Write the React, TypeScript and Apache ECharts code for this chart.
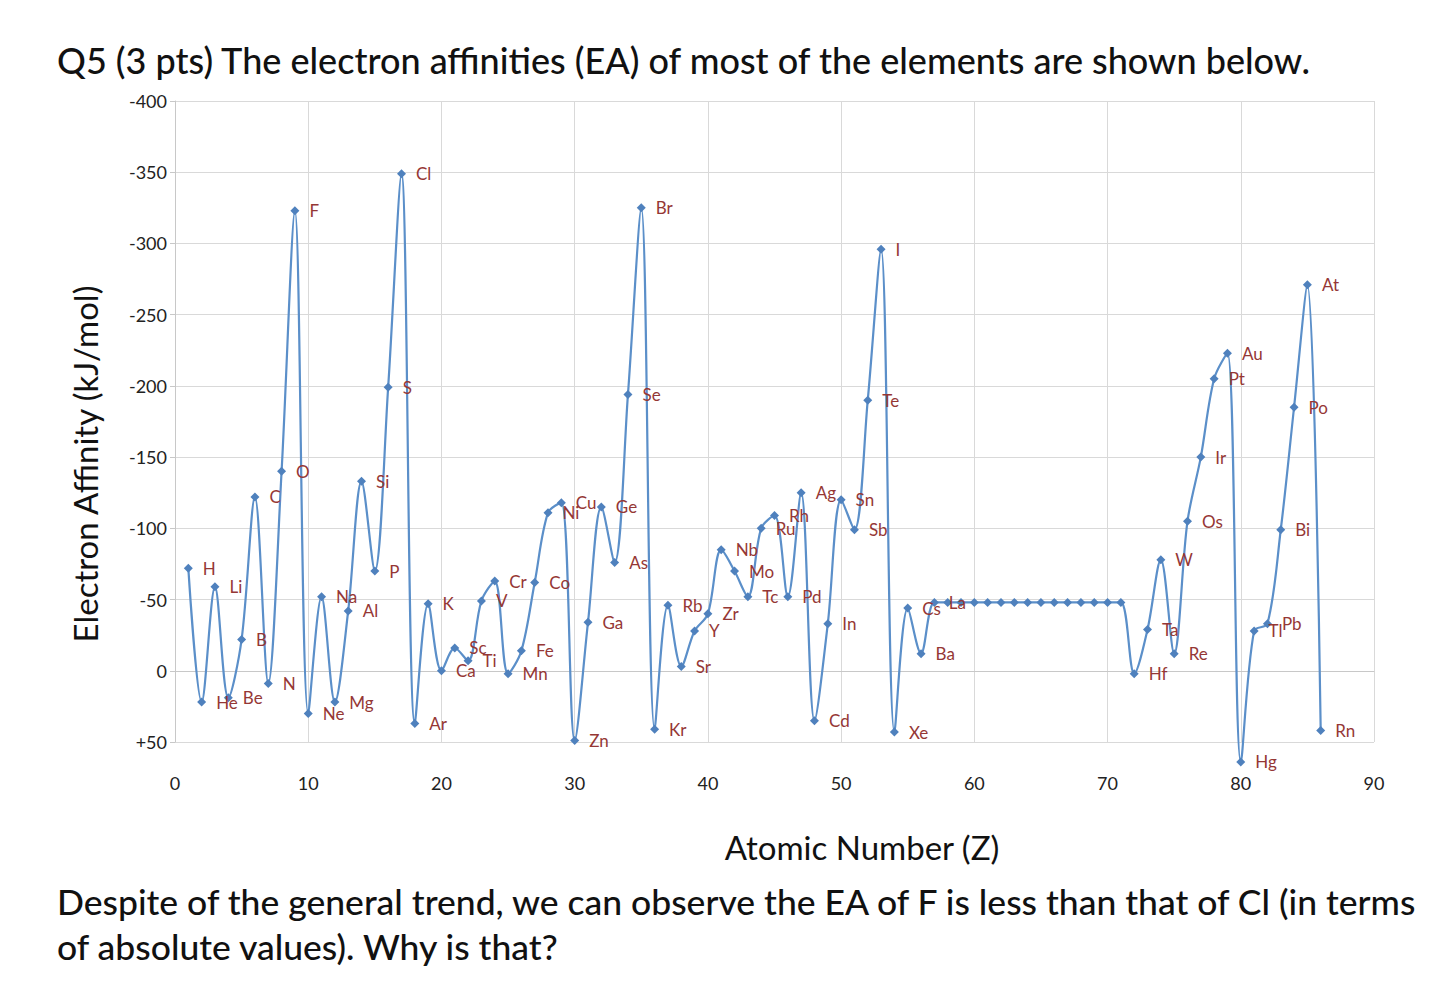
import React, { useEffect, useRef } from "react";
import * as echarts from "echarts";

// Element symbols, Z = 1..86
const elementSymbols = [
  "H", "He", "Li", "Be", "B", "C", "N", "O", "F", "Ne",
  "Na", "Mg", "Al", "Si", "P", "S", "Cl", "Ar", "K", "Ca",
  "Sc", "Ti", "V", "Cr", "Mn", "Fe", "Co", "Ni", "Cu", "Zn",
  "Ga", "Ge", "As", "Se", "Br", "Kr", "Rb", "Sr", "Y", "Zr",
  "Nb", "Mo", "Tc", "Ru", "Rh", "Pd", "Ag", "Cd", "In", "Sn",
  "Sb", "Te", "I", "Xe", "Cs", "Ba", "La", "Ce", "Pr", "Nd",
  "Pm", "Sm", "Eu", "Gd", "Tb", "Dy", "Ho", "Er", "Tm", "Yb",
  "Lu", "Hf", "Ta", "W", "Re", "Os", "Ir", "Pt", "Au", "Hg",
  "Tl", "Pb", "Bi", "Po", "At", "Rn",
];

// Electron affinity (kJ/mol), Z = 1..86
const electronAffinity = [
  -72, 22, -59, 19, -22, -122, 9, -140, -323, 30,
  -52, 22, -42, -133, -70, -199, -349, 37, -47, 0,
  -16, -7, -49, -63, 2, -14, -62, -111, -118, 49,
  -34, -115, -76, -194, -325, 41, -46, -3, -28, -40,
  -85, -70, -52, -100, -109, -52, -125, 35, -33, -120,
  -99, -190, -296, 43, -44, -12, -48, -48, -48, -48,
  -48, -48, -48, -48, -48, -48, -48, -48, -48, -48,
  -48, 2, -29, -78, -12, -105, -150, -205, -223, 64,
  -28, -33, -99, -185, -271, 42,
];

// Elements shown without a label in the chart (Ce..Lu)
const unlabeledSymbols = [
  "Ce", "Pr", "Nd", "Pm", "Sm", "Eu", "Gd", "Tb", "Dy", "Ho", "Er", "Tm", "Yb", "Lu",
];

const xAxisMin = 0;
const xAxisMax = 90;
const xAxisInterval = 10;
const yAxisMin = -400;
const yAxisMax = 50;
const yAxisInterval = 50;

const questionTitle =
  "Q5 (3 pts) The electron affinities (EA) of most of the elements are shown below.";
const questionLine1 =
  "Despite of the general trend, we can observe the EA of F is less than that of Cl (in terms";
const questionLine2 = "of absolute values). Why is that?";
const xAxisTitle = "Atomic Number (Z)";
const yAxisTitle = "Electron Affinity (kJ/mol)";

const FONT = "Lato, 'Open Sans', 'DejaVu Sans', sans-serif";

export default function App() {
  const ref = useRef<HTMLDivElement>(null);

  useEffect(() => {
    if (!ref.current) return;
    const chart = echarts.init(ref.current, undefined, { renderer: "svg" });

    const data = electronAffinity.map((v, i) => [i + 1, v]);
    const labels = elementSymbols.map((s) => (unlabeledSymbols.includes(s) ? "" : s));

    const questionStyle = (text: string, size: number) => ({
      text,
      font: `500 ${size}px ${FONT}`,
      fill: "#111",
      textAlign: "left",
      textVerticalAlign: "middle",
    });

    chart.setOption({
      animation: false,
      backgroundColor: "#ffffff",
      grid: { left: 175, top: 101, width: 1199, height: 641, containLabel: false },
      xAxis: {
        type: "value",
        min: xAxisMin,
        max: xAxisMax,
        interval: xAxisInterval,
        axisLine: { show: true, lineStyle: { color: "#c8c8c8", width: 1 } },
        axisTick: { show: false },
        axisLabel: { fontFamily: FONT, fontSize: 18, color: "#222", margin: 32 },
        splitLine: { show: true, lineStyle: { color: "#d9d9d9", width: 1 } },
      },
      yAxis: {
        type: "value",
        inverse: true,
        min: yAxisMin,
        max: yAxisMax,
        interval: yAxisInterval,
        axisLine: { show: true, lineStyle: { color: "#c8c8c8", width: 1 } },
        axisTick: { show: true, length: 5, lineStyle: { color: "#c8c8c8" } },
        axisLabel: {
          fontFamily: FONT,
          fontSize: 18,
          color: "#222",
          margin: 8,
          formatter: (v: number) => (v > 0 ? "+" + v : String(v)),
        },
        splitLine: { show: true, lineStyle: { color: "#d9d9d9", width: 1 } },
      },
      graphic: [
        { type: "text", x: 57, y: 60, style: questionStyle(questionTitle, 36) },
        { type: "text", x: 57, y: 901, style: questionStyle(questionLine1, 35.5) },
        { type: "text", x: 57, y: 946, style: questionStyle(questionLine2, 35.5) },
        {
          type: "text",
          x: 862,
          y: 847,
          style: {
            text: xAxisTitle,
            font: `33px ${FONT}`,
            fill: "#111",
            textAlign: "center",
            textVerticalAlign: "middle",
          },
        },
        {
          type: "text",
          x: 85,
          y: 464,
          rotation: Math.PI / 2,
          style: {
            text: yAxisTitle,
            font: `33px ${FONT}`,
            fill: "#111",
            textAlign: "center",
            textVerticalAlign: "middle",
          },
        },
      ],
      series: [
        {
          type: "line",
          data,
          smooth: 0.33,
          clip: false,
          symbol: "diamond",
          symbolSize: 9,
          lineStyle: { color: "#5b8fc9", width: 2.2 },
          itemStyle: { color: "#4f81bd" },
          label: {
            show: true,
            position: "right",
            distance: 10,
            color: "#953735",
            fontFamily: FONT,
            fontSize: 17,
            formatter: (p: any) => labels[p.dataIndex],
          },
          emphasis: { disabled: true },
        },
      ],
    });

    return () => chart.dispose();
  }, []);

  return (
    <div
      ref={ref}
      style={{ position: "absolute", left: 0, top: 0, width: 1454, height: 1008, background: "#fff" }}
    />
  );
}
